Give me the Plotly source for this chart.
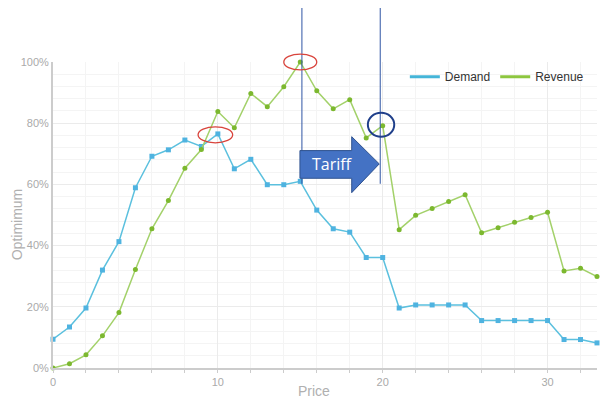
import plotly.graph_objects as go

# Price points and the two series (in %)
price = list(range(34))
demand = [9.4, 13.4, 19.6, 32.0, 41.3, 58.9, 69.2, 71.3, 74.5, 72.4,
          76.5, 65.1, 68.2, 59.9, 59.9, 61.0, 51.6, 45.5, 44.4, 36.1,
          36.1, 19.6, 20.6, 20.6, 20.6, 20.6, 15.5, 15.5, 15.5, 15.5,
          15.5, 9.3, 9.3, 8.2]
revenue = [0.0, 1.4, 4.3, 10.5, 18.1, 32.2, 45.5, 54.7, 65.3, 71.4,
           83.8, 78.5, 89.7, 85.4, 91.9, 100.0, 90.6, 84.7, 87.7, 75.2,
           79.2, 45.2, 49.9, 52.1, 54.4, 56.6, 44.2, 45.8, 47.6, 49.2,
           50.9, 31.7, 32.6, 29.9]

y_ticks = [0, 20, 40, 60, 80, 100]
y_labels = ['0%', '20%', '40%', '60%', '80%', '100%']
x_ticks = [0, 10, 20, 30]

X_MAX = 33
Y_MAX = 100

DEMAND_LINE = '#5bc0de'
REVENUE_LINE = '#a3d16a'
TITLE_GREY = '#b0b0b0'

fig = go.Figure()

fig.add_trace(go.Scatter(
    x=price, y=demand, mode='lines+markers', name='Demand',
    line=dict(color=DEMAND_LINE, width=1.5),
    marker=dict(symbol='square', size=5, color='#4fb3e0'),
    cliponaxis=False, showlegend=False))

fig.add_trace(go.Scatter(
    x=price, y=revenue, mode='lines+markers', name='Revenue',
    line=dict(color=REVENUE_LINE, width=1.5),
    marker=dict(symbol='circle', size=5, color='#7cb82f'),
    cliponaxis=False, showlegend=False))

# legend entries: plain line symbol, no marker
for name, col in [('Demand', '#45b5d8'), ('Revenue', '#8dc63f')]:
    fig.add_trace(go.Scatter(x=[None], y=[None], mode='lines', name=name,
                             line=dict(color=col, width=3)))


def ellipse(cx, cy, rx, ry, color, width):
    # paper coords so the shape is not clipped at the plot edge
    return dict(type='circle', xref='paper', yref='paper',
                x0=(cx - rx) / X_MAX, x1=(cx + rx) / X_MAX,
                y0=(cy - ry) / Y_MAX, y1=(cy + ry) / Y_MAX,
                line=dict(color=color, width=width))


def vline(xd, y_bottom, y_top):
    return dict(type='line', xref='paper', yref='paper',
                x0=xd / X_MAX, x1=xd / X_MAX,
                y0=y_bottom / Y_MAX, y1=y_top / Y_MAX,
                line=dict(color='#2f55a4', width=1))


# block arrow "Tariff" (data units)
arrow = [(14.98, 71.05), (18.12, 71.05), (18.12, 75.6), (19.79, 66.7),
         (18.12, 57.3), (18.12, 62.0), (14.98, 62.0)]
arrow_path = 'M ' + ' L '.join(f'{a},{b}' for a, b in arrow) + ' Z'

shapes = [
    vline(15.1, 60.2, 125),
    vline(19.85, 60.2, 125),
    dict(type='path', xref='x', yref='y', path=arrow_path,
         fillcolor='#4472c4', line=dict(color='#2f528f', width=1)),
    ellipse(15.0, 100.0, 1.0, 2.6, '#d9443c', 1.3),
    ellipse(9.85, 76.2, 1.05, 2.6, '#d9443c', 1.3),
    ellipse(19.9, 79.5, 0.8, 3.9, '#1f3f8a', 2),
]

annotations = [
    dict(x=16.95, y=66.7, xref='x', yref='y', text='Tariff', showarrow=False,
         font=dict(family='Open Sans, sans-serif', size=16, color='white')),
    # axis titles as annotations so they can sit close to the page edge
    dict(x=-0.066, y=0.47, xref='paper', yref='paper', text='Optimimum',
         textangle=-90, showarrow=False, xanchor='center', yanchor='middle',
         font=dict(size=14, color=TITLE_GREY)),
    dict(x=0.48, y=-0.076, xref='paper', yref='paper', text='Price',
         showarrow=False, xanchor='center', yanchor='middle',
         font=dict(size=14, color=TITLE_GREY)),
]

# page body has an 8px margin, so the margins are shifted by that amount
fig.update_layout(
    width=613, height=409,
    margin=dict(l=45, r=24, t=54, b=49, autoexpand=False),
    plot_bgcolor='white', paper_bgcolor='white',
    font=dict(family='Liberation Sans, Arial, sans-serif', color='#aaaaaa'),
    shapes=shapes,
    annotations=annotations,
    legend=dict(orientation='h', x=0.985, y=0.952, xanchor='right',
                yanchor='middle', bgcolor='rgba(0,0,0,0)',
                font=dict(size=12, color='#333333'),
                itemwidth=30, tracegroupgap=0),
)

fig.update_xaxes(
    range=[0, X_MAX], tickvals=x_ticks,
    showgrid=True, gridcolor='#ebebeb', gridwidth=1,
    minor=dict(dtick=2, showgrid=True, gridcolor='#f4f4f4',
               ticks='outside', ticklen=3, tickcolor='#cccccc'),
    ticks='outside', ticklen=3, tickcolor='#cccccc',
    showline=True, linecolor='#cccccc', linewidth=2,
    zeroline=False, automargin=False,
    tickfont=dict(size=11, color='#aaaaaa'),
)

fig.update_yaxes(
    range=[0, Y_MAX], tickvals=y_ticks, ticktext=y_labels,
    showgrid=True, gridcolor='#ebebeb', gridwidth=1,
    minor=dict(dtick=4, showgrid=True, gridcolor='#f4f4f4'),
    showline=True, linecolor='#cccccc', linewidth=2,
    zeroline=False, automargin=False,
    tickfont=dict(size=11, color='#aaaaaa'),
)

fig.write_html('out.html')
